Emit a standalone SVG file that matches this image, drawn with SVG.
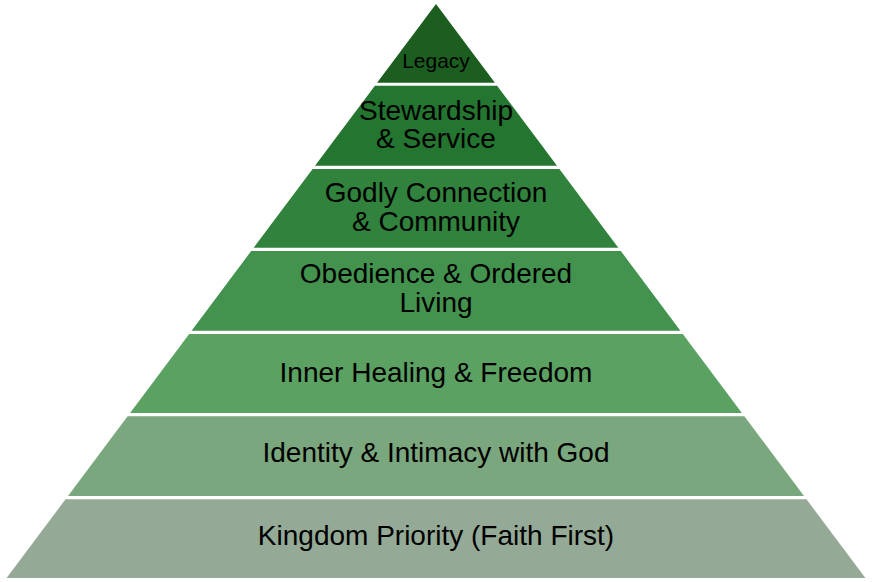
<svg xmlns="http://www.w3.org/2000/svg" width="872" height="582" viewBox="0 0 872 582">
<style>
  .t { font-family: "Liberation Sans", Arial, sans-serif; font-size: 28px; fill: #000; text-anchor: middle; }
  .s { font-size: 21px; }
</style>
<rect width="872" height="582" fill="#ffffff"/>
<g id="legacy">
  <polygon points="436,4 494.9,82.7 377.1,82.7" fill="#1b5e20"/>
  <text class="t s" x="436" y="68">Legacy</text>
</g>
<g id="stewardship">
  <polygon points="374.9,85.7 497.1,85.7 557,165.7 315,165.7" fill="#237530"/>
  <text class="t" x="436" y="119.5">Stewardship</text>
  <text class="t" x="436" y="147.5">&amp; Service</text>
</g>
<g id="godly-connection">
  <polygon points="312.6,169 559.4,169 618.3,247.7 253.7,247.7" fill="#30823c"/>
  <text class="t" x="436" y="202">Godly Connection</text>
  <text class="t" x="436" y="231">&amp; Community</text>
</g>
<g id="obedience">
  <polygon points="251.2,251 620.8,251 680.4,330.7 191.6,330.7" fill="#43934f"/>
  <text class="t" x="436" y="283">Obedience &amp; Ordered</text>
  <text class="t" x="436" y="312">Living</text>
</g>
<g id="inner-healing">
  <polygon points="189.2,334 682.8,334 741.9,413 130.1,413" fill="#5aa162"/>
  <text class="t" x="436" y="382">Inner Healing &amp; Freedom</text>
</g>
<g id="identity">
  <polygon points="127.6,416.3 744.4,416.3 804,496 68,496" fill="#7aa77d"/>
  <text class="t" x="436" y="462">Identity &amp; Intimacy with God</text>
</g>
<g id="kingdom-priority">
  <polygon points="65.5,499.3 806.5,499.3 865.4,578 6.6,578" fill="#94aa96"/>
  <text class="t" x="436" y="545">Kingdom Priority (Faith First)</text>
</g>
<g id="connectors"></g>
</svg>
